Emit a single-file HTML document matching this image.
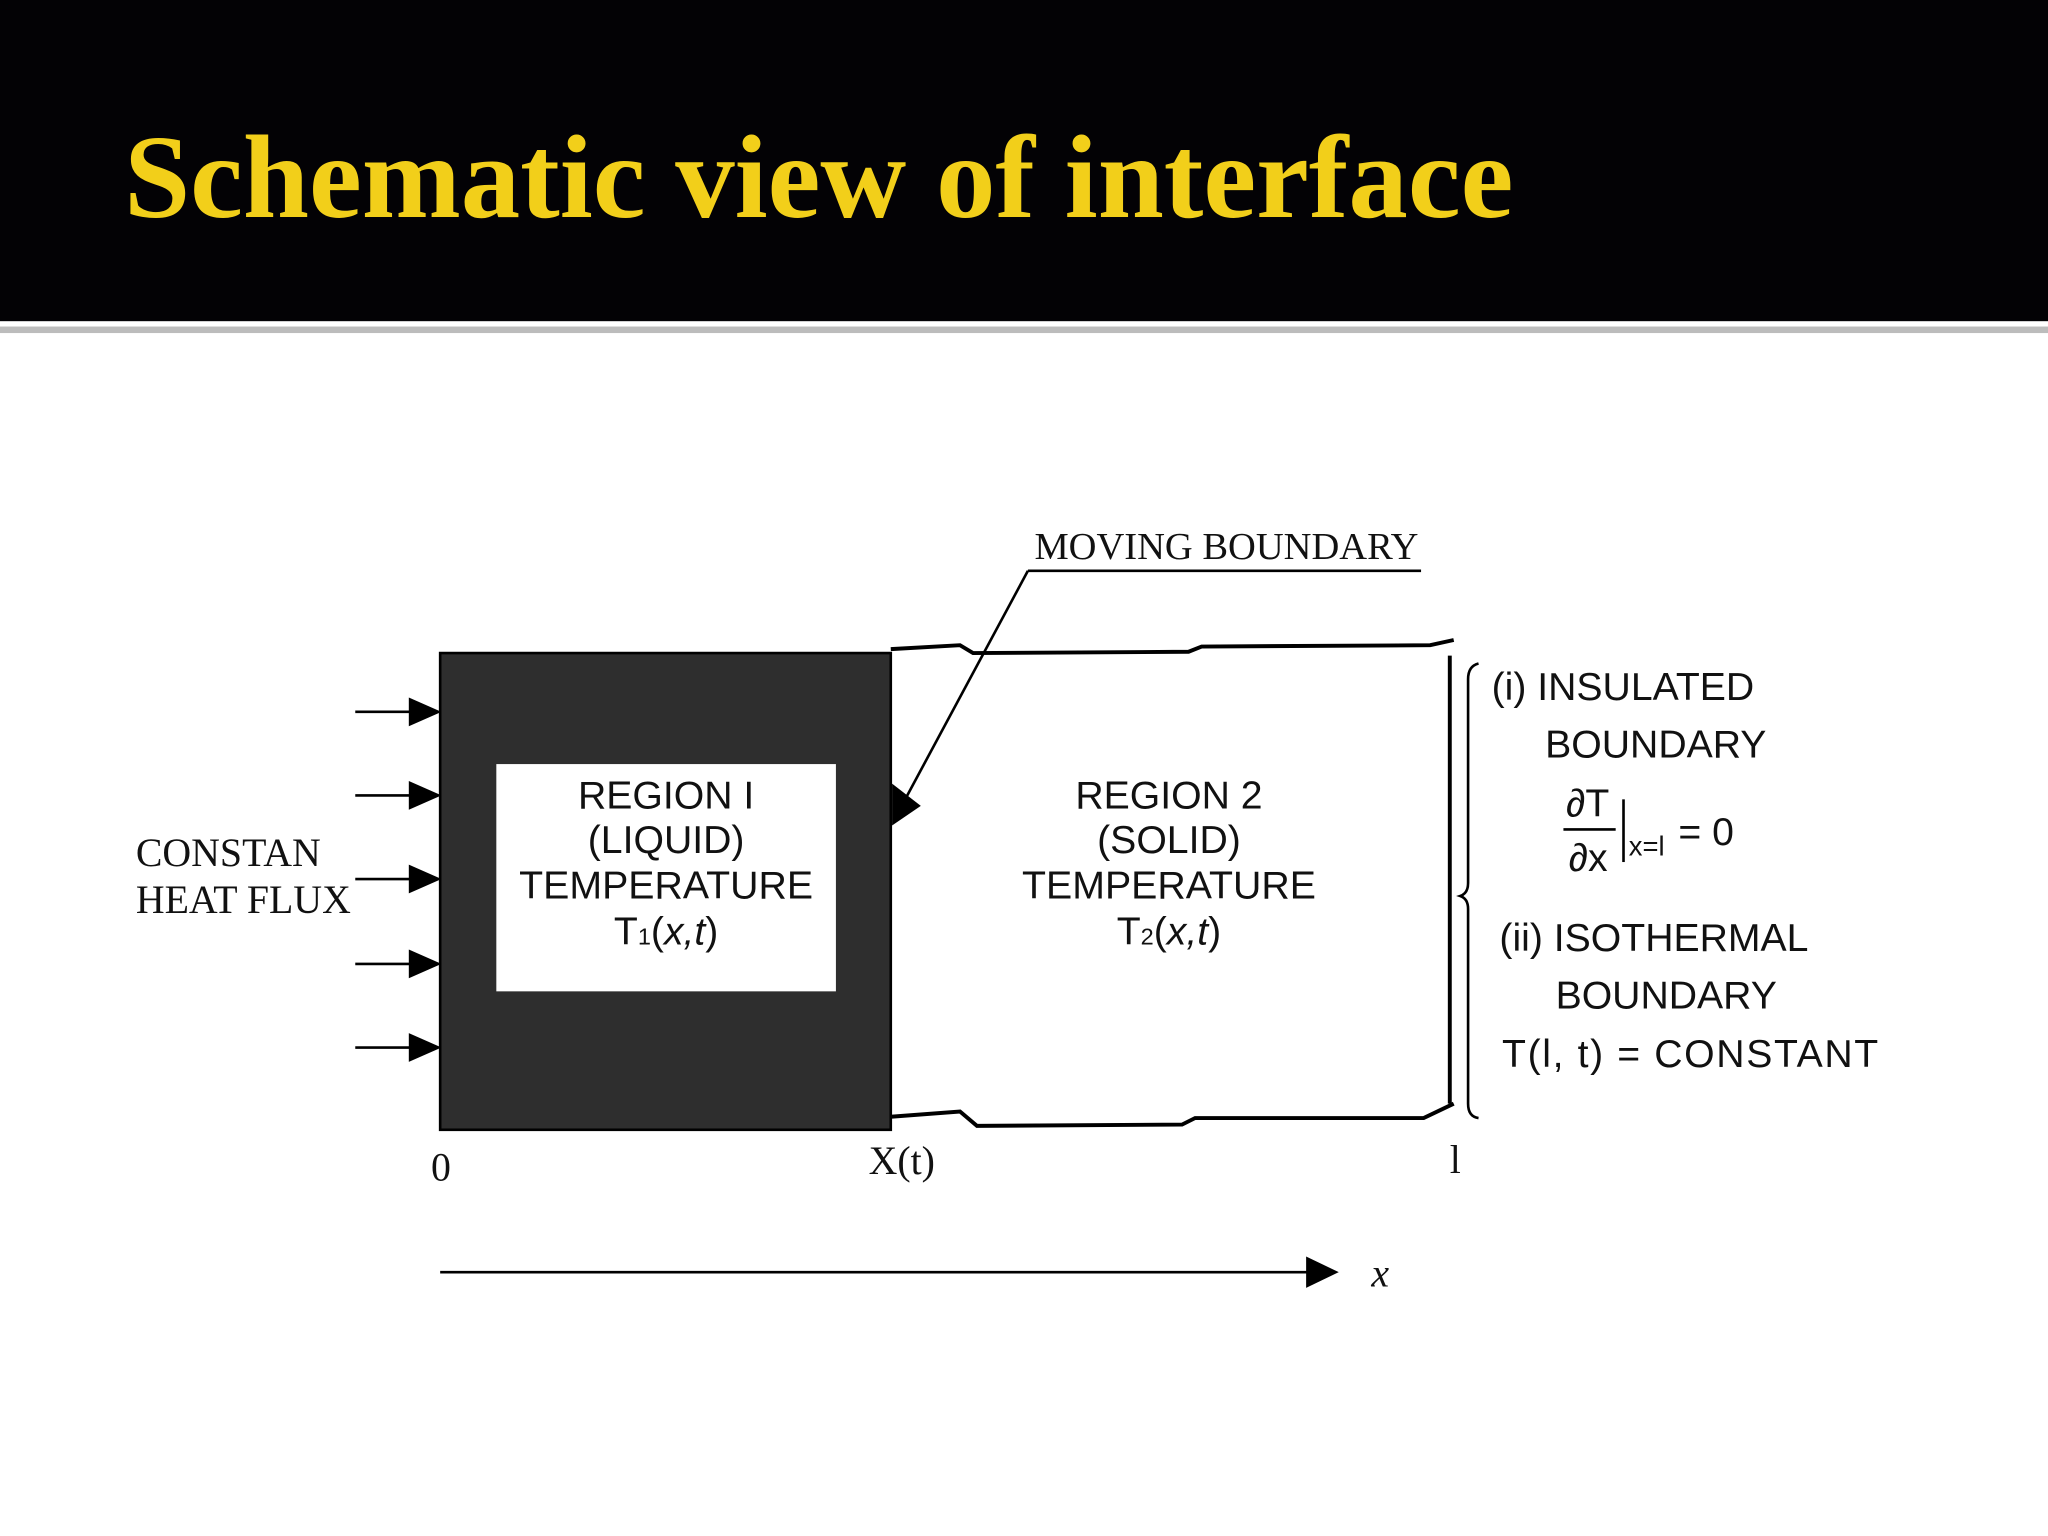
<!DOCTYPE html>
<html><head><meta charset="utf-8"><style>
html,body{margin:0;padding:0;background:#fff;}
svg{display:block;}
</style></head><body>
<svg width="2048" height="1536" viewBox="0 0 1568 1176" xmlns="http://www.w3.org/2000/svg">
<rect x="0" y="0" width="1568" height="246" fill="#030205"/>
<rect x="0" y="246" width="1568" height="4" fill="#fff"/>
<rect x="0" y="250" width="1568" height="5" fill="#bcbcbc"/>
<text x="95" y="166" font-family="Liberation Serif, serif" font-weight="bold" font-size="91" fill="#f2cf1a">Schematic view of interface</text>

<g font-family="Liberation Sans, sans-serif" fill="#111">
<rect x="337" y="500" width="345" height="365" fill="#2e2e2e" stroke="#000" stroke-width="2"/>
<rect x="380" y="585" width="260" height="174" fill="#fff"/>
<g font-size="30" text-anchor="middle">
<text x="510" y="619">REGION I</text>
<text x="510" y="653">(LIQUID)</text>
<text x="510" y="688" textLength="225" lengthAdjust="spacingAndGlyphs">TEMPERATURE</text>
<text x="510" y="723">T<tspan font-size="18">1</tspan>(<tspan font-style="italic">x,t</tspan>)</text>
<text x="895" y="619">REGION 2</text>
<text x="895" y="653">(SOLID)</text>
<text x="895" y="688" textLength="225" lengthAdjust="spacingAndGlyphs">TEMPERATURE</text>
<text x="895" y="723">T<tspan font-size="18">2</tspan>(<tspan font-style="italic">x,t</tspan>)</text>
</g>
<path d="M682 497 L735 494 L745 500 L910 499 L920 495 L1095 494 L1113 490" fill="none" stroke="#000" stroke-width="3"/>
<path d="M682 855 L735 851 L748 862 L905 861 L915 856 L1090 856 L1113 845" fill="none" stroke="#000" stroke-width="3"/>
<line x1="1110" y1="502" x2="1110" y2="845" stroke="#000" stroke-width="3"/>
<path d="M1132 508 Q1124 510 1124 520 L1124 676 Q1124 684 1118 686 Q1124 688 1124 696 L1124 845 Q1124 855 1132 856" fill="none" stroke="#000" stroke-width="2"/>
<g stroke="#000" stroke-width="2">
<line x1="272" y1="545" x2="320" y2="545"/><line x1="272" y1="609" x2="320" y2="609"/><line x1="272" y1="673" x2="320" y2="673"/><line x1="272" y1="738" x2="320" y2="738"/><line x1="272" y1="802" x2="320" y2="802"/>
</g>
<g fill="#000">
<polygon points="313,534 338,545 313,556"/><polygon points="313,598 338,609 313,620"/><polygon points="313,662 338,673 313,684"/><polygon points="313,727 338,738 313,749"/><polygon points="313,791 338,802 313,813"/>
</g>
<line x1="787" y1="437" x2="1088" y2="437" stroke="#000" stroke-width="2"/>
<line x1="787" y1="437" x2="693" y2="612" stroke="#000" stroke-width="2"/>
<polygon points="683,600 705,617 683,632" fill="#000"/>
<text x="792" y="428" font-family="Liberation Serif, serif" font-size="29.5" textLength="294" lengthAdjust="spacingAndGlyphs">MOVING BOUNDARY</text>
<g font-family="Liberation Serif, serif" font-size="30.5">
<text x="104" y="663">CONSTAN</text>
<text x="104" y="699">HEAT FLUX</text>
<text x="330" y="904">0</text>
<text x="665" y="899">X(t)</text>
<text x="1110" y="898">l</text>
<text x="1050" y="985" font-style="italic">x</text>
</g>
<line x1="337" y1="974" x2="1005" y2="974" stroke="#000" stroke-width="2"/>
<polygon points="1000,962 1025,974 1000,986" fill="#000"/>
<g font-size="30">
<text x="1142" y="536">(i) INSULATED</text>
<text x="1183" y="580">BOUNDARY</text>
<text x="1199" y="625">∂T</text>
<line x1="1197" y1="635" x2="1237" y2="635" stroke="#000" stroke-width="2"/>
<text x="1201" y="667">∂x</text>
<line x1="1243" y1="612" x2="1243" y2="660" stroke="#000" stroke-width="2"/>
<text x="1247" y="655" font-size="21">x=l</text>
<text x="1285" y="647">=  0</text>
<text x="1148" y="728">(ii) ISOTHERMAL</text>
<text x="1191" y="772">BOUNDARY</text>
<text x="1150" y="817" textLength="288" lengthAdjust="spacing">T(l,  t)  =  CONSTANT</text>
</g>
</g>
</svg>
</body></html>
